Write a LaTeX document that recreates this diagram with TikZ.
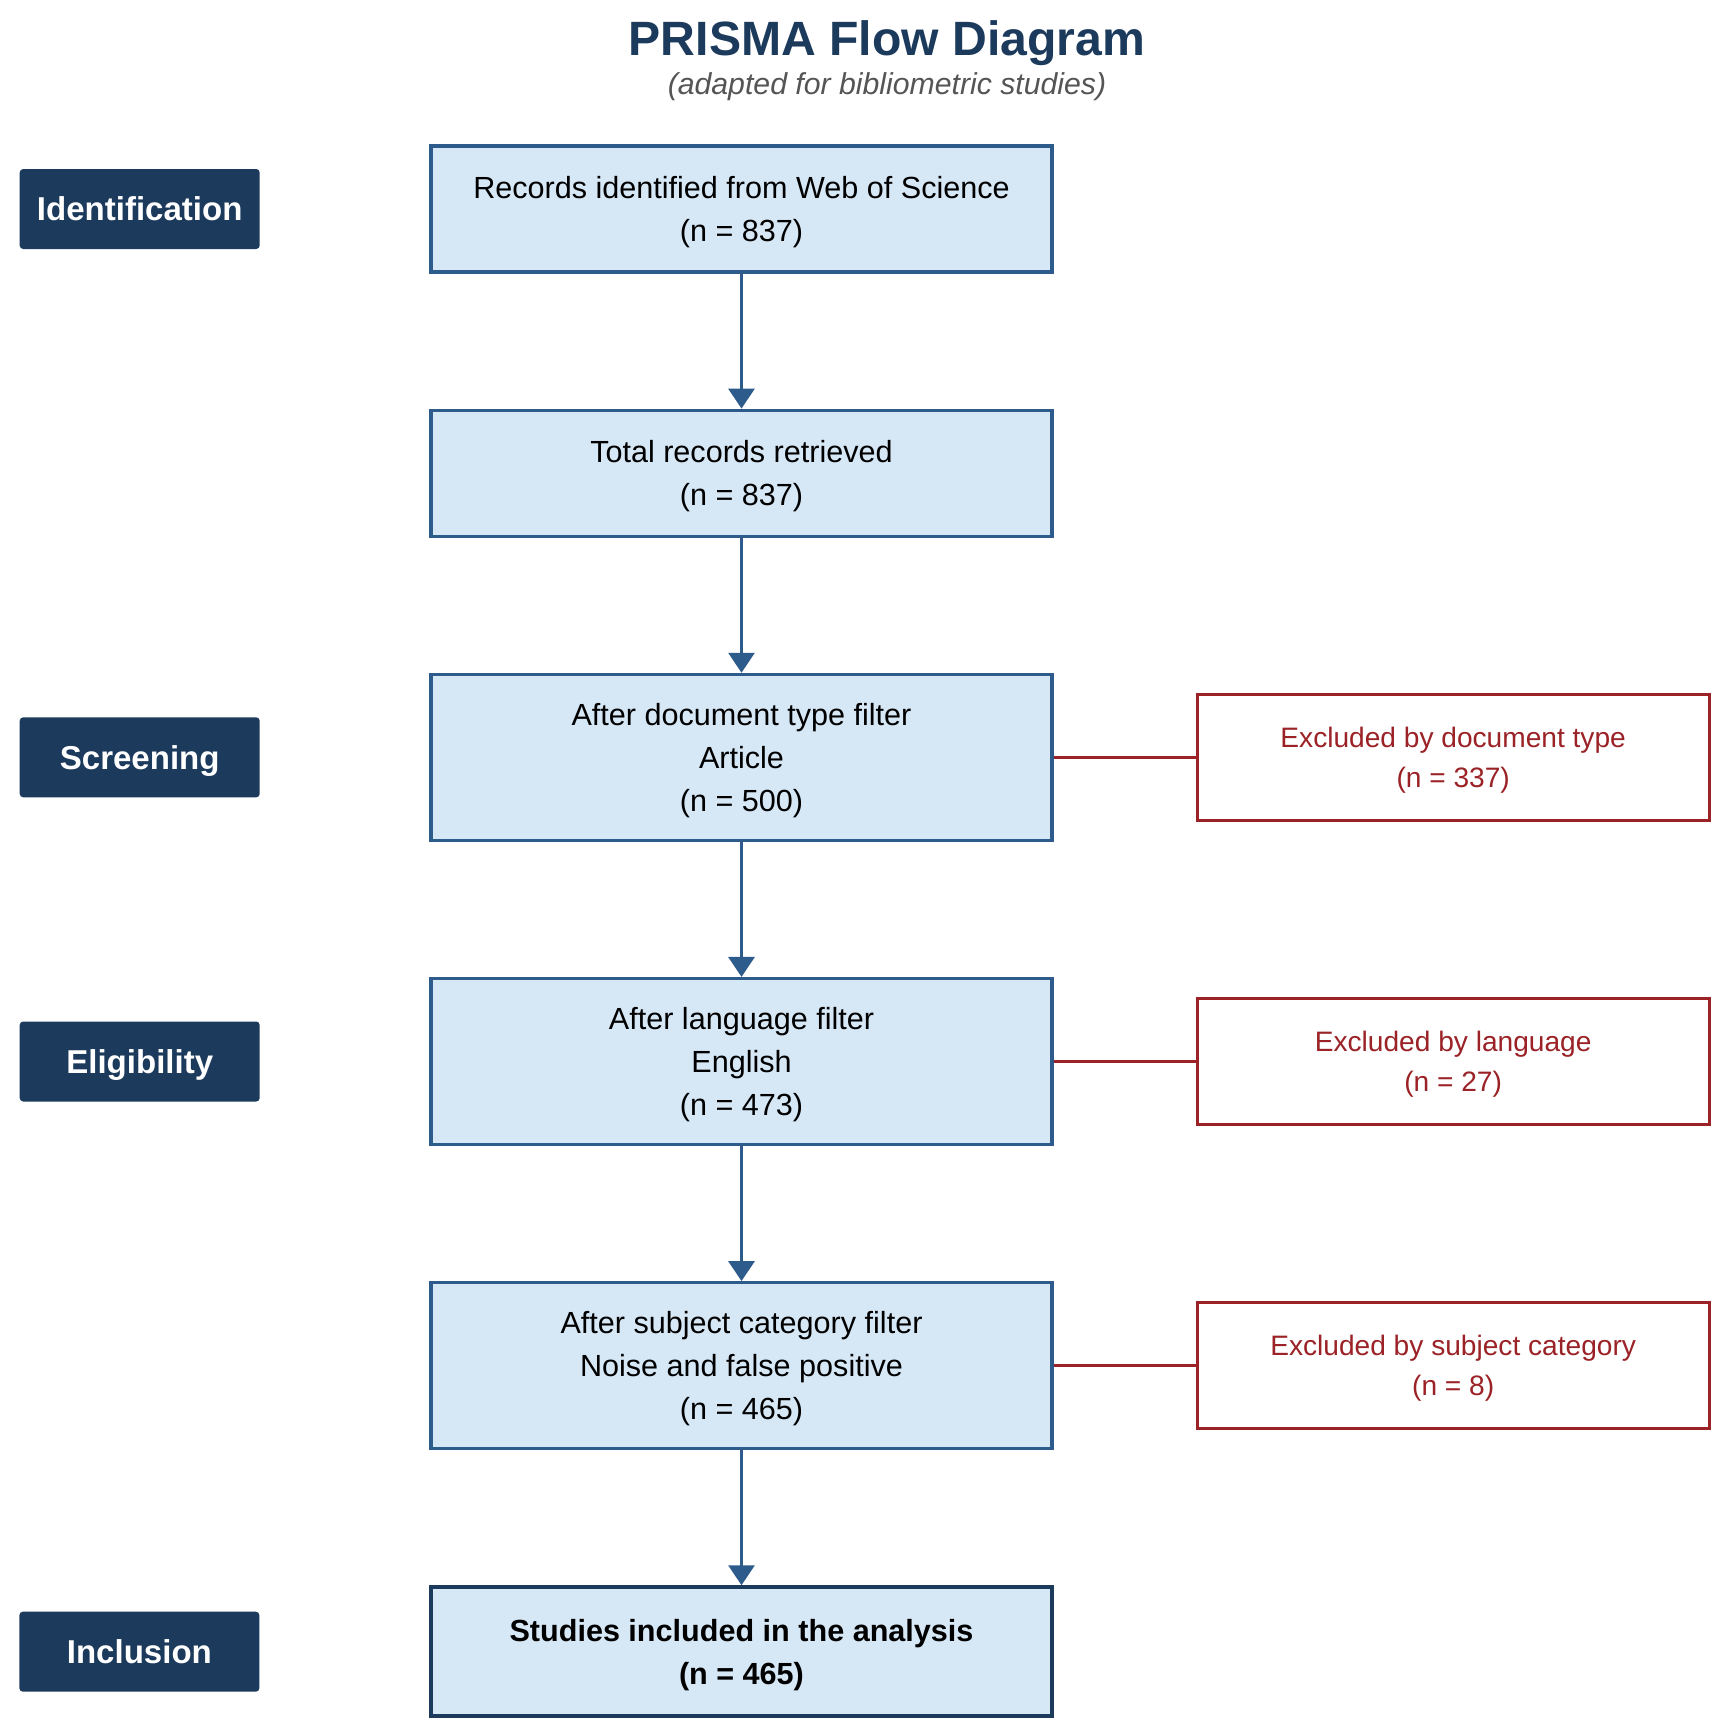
\documentclass[tikz,border=0pt]{standalone}
\usepackage{fontspec}
\setmainfont{Liberation Sans}
\usetikzlibrary{arrows.meta,positioning}
\definecolor{navy}{RGB}{28,58,92}
\definecolor{steel}{RGB}{45,91,140}
\definecolor{pale}{RGB}{214,231,245}
\definecolor{brick}{RGB}{155,34,38}
\definecolor{slate}{RGB}{85,85,85}

\begin{document}
\begin{tikzpicture}[node distance=1.35cm and 1.42cm,stepbox/.style={draw=steel,line width=.9pt,fill=pale,minimum width=6.21cm,minimum height=1.26cm,align=center,text depth=0pt,font=\fontsize{8.7}{12.2}\selectfont},exclbox/.style={draw=brick,line width=.9pt,fill=white,minimum width=5.12cm,minimum height=1.26cm,align=center,text depth=0pt,text=brick,font=\fontsize{8}{11.4}\selectfont},stage/.style={fill=navy,rounded corners=1pt,minimum width=2.4cm,minimum height=.8cm,text=white,text height=6.7pt,text depth=0pt,font=\fontsize{9.4}{11}\selectfont\bfseries},arrow/.style={-{Triangle[length=2mm,width=2.6mm]},line width=.9pt,draw=steel},link/.style={draw=brick,line width=.7pt}]
\useasboundingbox (0,0) rectangle (17.29,-17.34);
\node[font=\fontsize{13.7}{16}\selectfont\bfseries,text=navy] (title) at (8.87,-.434) {PRISMA Flow Diagram};
\node[font=\fontsize{8.6}{10}\selectfont\itshape,text=slate] (sub) at (8.87,-.865) {(adapted for bibliometric studies)};
\node[stepbox] (b1) at (7.415,-2.09) {Records identified from Web of Science\\(n = 837)};
\node[stepbox,below=of b1] (b2) {Total records retrieved\\(n = 837)};
\node[stepbox,minimum height=1.66cm,below=of b2] (b3) {After document type filter\\Article\\(n = 500)};
\node[stepbox,minimum height=1.66cm,below=of b3] (b4) {After language filter\\English\\(n = 473)};
\node[stepbox,minimum height=1.66cm,below=of b4] (b5) {After subject category filter\\Noise and false positive\\(n = 465)};
\node[stepbox,draw=navy,line width=1.1pt,minimum height=1.29cm,font=\fontsize{8.7}{12.2}\selectfont\bfseries,below=of b5] (b6) {Studies included in the analysis\\(n = 465)};
\node[stage,left=1.69cm of b1] (s1) {Identification};
\node[stage,left=1.69cm of b3] (s2) {Screening};
\node[stage,left=1.69cm of b4] (s3) {Eligibility};
\node[stage,left=1.69cm of b6] (s4) {Inclusion};
\node[exclbox,right=of b3] (x1) {Excluded by document type\\(n = 337)};
\node[exclbox,right=of b4] (x2) {Excluded by language\\(n = 27)};
\node[exclbox,right=of b5] (x3) {Excluded by subject category\\(n = 8)};
\draw[arrow] (b1)--(b2);\draw[arrow] (b2)--(b3);\draw[arrow] (b3)--(b4);\draw[arrow] (b4)--(b5);\draw[arrow] (b5)--(b6);
\draw[link] (b3)--(x1);\draw[link] (b4)--(x2);\draw[link] (b5)--(x3);
\end{tikzpicture}
\end{document}
